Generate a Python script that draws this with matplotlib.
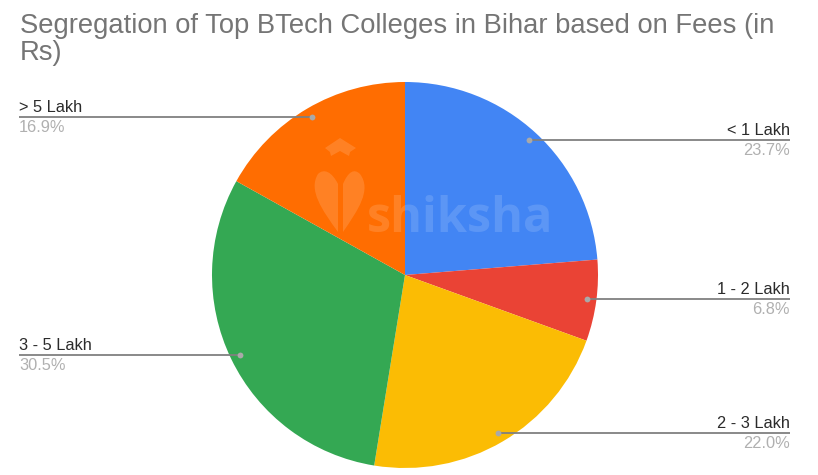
import numpy as np
import matplotlib
matplotlib.use('Agg')
import matplotlib.pyplot as plt
from matplotlib.patches import PathPatch
from matplotlib.path import Path

labels = ['< 1 Lakh', '1 - 2 Lakh', '2 - 3 Lakh', '3 - 5 Lakh', '> 5 Lakh']
values = [23.7, 6.8, 22.0, 30.5, 16.9]
colors = ['#4285f4', '#ea4335', '#fbbc04', '#34a853', '#ff6d01']
title = 'Segregation of Top BTech Colleges in Bihar based on Fees (in\nRs)'

W, H = 818, 475
cx, cy, R = 405, 275, 193

plt.rcParams['font.family'] = ['Liberation Sans', 'DejaVu Sans']
fig = plt.figure(figsize=(W / 100, H / 100), dpi=100)
ax = fig.add_axes([0, 0, 1, 1])

# pixel coords, y measured up from the bottom
def py(y):
    return H - y

ax.pie(values, colors=colors, center=(cx, py(cy)), radius=R, startangle=90,
       counterclock=False, frame=True, wedgeprops={'linewidth': 0})
ax.set_xlim(0, W)
ax.set_ylim(0, H)
ax.set_aspect('equal')
ax.axis('off')

ax.text(20, py(33), title.split('\n')[0], fontsize=19.7, color='#757575', va='baseline', ha='left')
ax.text(20, py(60), title.split('\n')[1], fontsize=19.7, color='#757575', va='baseline', ha='left')

# leader lines
total = sum(values)
cum = 0
for lab, val in zip(labels, values):
    mid = (cum + val / 2) / total * 2 * np.pi
    cum += val
    dx = 0.95 * R * np.sin(mid)
    dy = 0.95 * R * np.cos(mid)
    px, pyy = cx + dx, py(cy) + dy
    right = dx > 0
    end = 790 if right else 19
    ha = 'right' if right else 'left'
    ax.plot([px, end], [pyy, pyy], color='#808080', lw=1.3, solid_capstyle='butt', zorder=5)
    ax.plot([px], [pyy], 'o', ms=4.2, color='#a9a9a9', mew=0, zorder=6)
    ax.text(end, pyy + 5, lab, ha=ha, va='baseline', fontsize=11.8, color='#2b2b2b', zorder=6)
    ax.text(end, pyy - 15, '%.1f%%' % val, ha=ha, va='baseline', fontsize=11.8, color='#b0b0b0', zorder=6)

# faint shiksha watermark
wm = dict(facecolor='white', edgecolor='none', alpha=0.14, zorder=4)
ax.text(367, py(232), 'shiksha', fontsize=35, fontweight='bold', family='Open Sans', color='white',
        alpha=0.14, ha='left', va='baseline', zorder=4)
# cap
cap = [(325, py(148)), (340, py(138)), (356, py(148)), (350, py(152)), (349, py(156)),
       (340, py(151)), (331, py(156)), (330, py(152)), (325, py(148))]
ax.add_patch(PathPatch(Path(cap, [Path.MOVETO] + [Path.LINETO] * 7 + [Path.CLOSEPOLY]), **wm))
# two leaves of the head
left = [(338, py(232)), (322, py(210)), (308, py(190)), (318, py(174)),
        (324, py(168)), (332, py(172)), (338, py(184)), (338, py(232))]
right_ = [(343, py(232)), (358, py(210)), (372, py(190)), (360, py(174)),
          (354, py(168)), (348, py(172)), (343, py(184)), (343, py(232))]
leaf_codes = [Path.MOVETO, Path.CURVE4, Path.CURVE4, Path.CURVE4,
              Path.CURVE4, Path.CURVE4, Path.CURVE4, Path.CLOSEPOLY]
ax.add_patch(PathPatch(Path(left, leaf_codes), **wm))
ax.add_patch(PathPatch(Path(right_, leaf_codes), **wm))

fig.savefig('out.png', dpi=100)
